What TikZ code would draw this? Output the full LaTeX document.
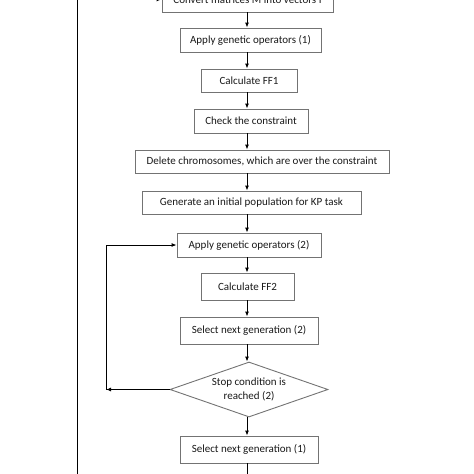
\documentclass[tikz,border=0pt]{standalone}
\usepackage{fontspec}
\setmainfont{Carlito}
\usetikzlibrary{shapes.geometric,arrows.meta}

\begin{document}
\begin{tikzpicture}[x=1pt, y=-1pt,
    box/.style={draw=black!55, line width=0.9pt, inner sep=0pt, text=black!90,
      font=\fontsize{11}{14.5}\selectfont},
    decision/.style={box, diamond, aspect=2.9, align=center},
    arr/.style={-{Latex[length=5pt,width=4pt]}, line width=0.9pt}]
  \useasboundingbox (0,0) rectangle (474,474);
  \clip (0,0) rectangle (474,474);

  % Steps
  \node[box, minimum width=171pt, minimum height=25pt] (conv) at (247.5, -0.5) {Convert matrices M into vectors I};
  \node[box, minimum width=141pt, minimum height=24pt] (app1) at (250.5, 40) {Apply genetic operators (1)};
  \node[box, minimum width=96pt, minimum height=23pt] (ff1) at (249, 80.5) {Calculate FF1};
  \node[box, minimum width=114pt, minimum height=24pt] (check) at (251, 121) {Check the constraint};
  \node[box, minimum width=254pt, minimum height=23pt] (del) at (262, 161.5) {Delete chromosomes, which are over the constraint};
  \node[box, minimum width=219pt, minimum height=23pt] (init) at (251.5, 202.5) {Generate an initial population for KP task};
  \node[box, minimum width=144pt, minimum height=24pt] (app2) at (249, 245) {Apply genetic operators (2)};
  \node[box, minimum width=93pt, minimum height=27pt] (ff2) at (247.5, 286.5) {Calculate FF2};
  \node[box, minimum width=138pt, minimum height=27pt] (sel2) at (249, 330.5) {Select next generation (2)};
  \node[decision, minimum width=158pt, minimum height=55pt] (stop) at (249, 389.5) {Stop condition is\\reached (2)};
  \node[box, minimum width=138pt, minimum height=27pt] (sel1) at (249, 449.5) {Select next generation (1)};

  % Helper points
  \coordinate (spine) at (247, 0);
  \coordinate (rail) at (77, 480);
  \coordinate (back) at (106, 389.5);
  \coordinate (out) at (247, 480);

  % Main flow
  \draw[arr] (conv.south -| spine) -- (app1.north -| spine);
  \draw[arr] (app1.south -| spine) -- (ff1.north -| spine);
  \draw[arr] (ff1.south -| spine) -- (check.north -| spine);
  \draw[arr] (check.south -| spine) -- (del.north -| spine);
  \draw[arr] (del.south -| spine) -- (init.north -| spine);
  \draw[arr] (init.south -| spine) -- (app2.north -| spine);
  \draw[arr] (app2.south -| spine) -- (ff2.north -| spine);
  \draw[arr] (ff2.south -| spine) -- (sel2.north -| spine);
  \draw[arr] (sel2.south -| spine) -- (stop.north -| spine);
  \draw[arr] (stop.south -| spine) -- (sel1.north -| spine);
  \draw[line width=0.9pt] (sel1.south -| spine) -- (out);

  % Loops
  \draw[arr] (stop.west) -- (back);
  \draw[arr] (back) |- (app2.west);
  \draw[arr] (rail) |- (conv.west);
\end{tikzpicture}
\end{document}
